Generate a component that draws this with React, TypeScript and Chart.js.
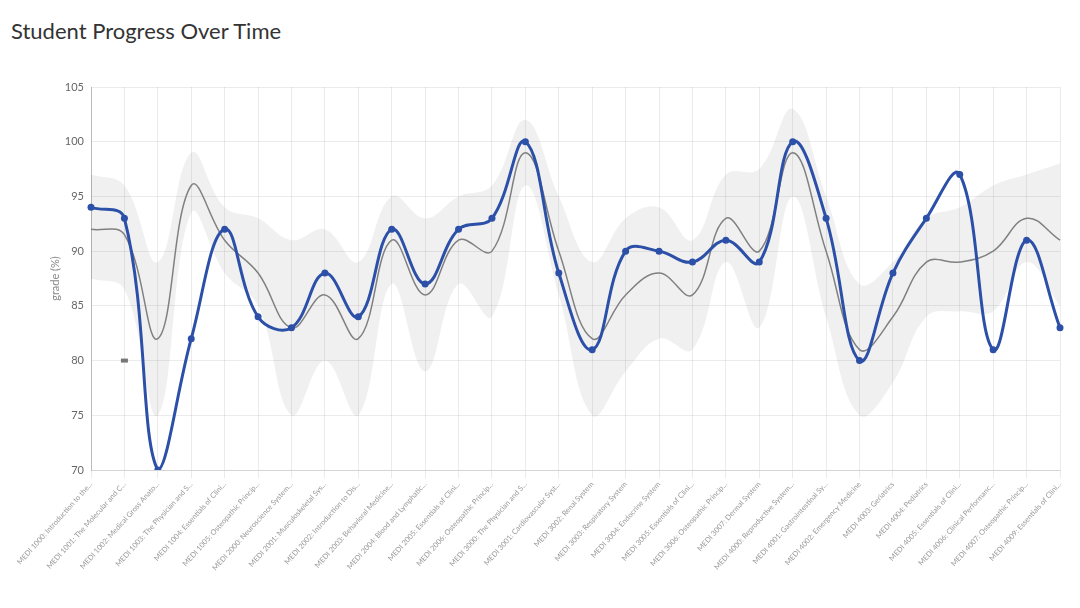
import React, { useEffect, useRef } from "react";
import { Chart, registerables } from "chart.js";

Chart.register(...registerables);

const courseLabels = [
  "MEDI 1000: Introduction to the...",
  "MEDI 1001: The Molecular and C...",
  "MEDI 1002: Medical Gross Anato...",
  "MEDI 1003: The Physician and S...",
  "MEDI 1004: Essentials of Clini...",
  "MEDI 1005: Osteopathic Princip...",
  "MEDI 2000: Neuroscience System...",
  "MEDI 2001: Musculoskeletal Sys...",
  "MEDI 2002: Introduction to Dis...",
  "MEDI 2003: Behavioral Medicine...",
  "MEDI 2004: Blood and Lymphatic...",
  "MEDI 2005: Essentials of Clini...",
  "MEDI 2006: Osteopathic Princip...",
  "MEDI 3000: The Physician and S...",
  "MEDI 3001: Cardiovascular Syst...",
  "MEDI 3002: Renal System",
  "MEDI 3003: Respiratory System",
  "MEDI 3004: Endocrine System",
  "MEDI 3005: Essentials of Clini...",
  "MEDI 3006: Osteopathic Princip...",
  "MEDI 3007: Dermal System",
  "MEDI 4000: Reproductive System...",
  "MEDI 4001: Gastrointestinal Sy...",
  "MEDI 4002: Emergency Medicine",
  "MEDI 4003: Geriatrics",
  "MEDI 4004: Pediatrics",
  "MEDI 4005: Essentials of Clini...",
  "MEDI 4006: Clinical Performanc...",
  "MEDI 4007: Osteopathic Princip...",
  "MEDI 4009: Essentials of Clini...",
];

const studentGrades = [94, 93, 70, 82, 92, 84, 83, 88, 84, 92, 87, 92, 93, 100, 88, 81, 90, 90, 89, 91, 89, 100, 93, 80, 88, 93, 97, 81, 91, 83];

const classAverage = [92, 91.5, 82, 96, 91, 88, 83, 86, 82, 91, 86, 91, 90, 99, 90, 82, 86, 88, 86, 93, 90, 99, 90, 81, 84, 89, 89, 90, 93, 91];

const upperBand = [97, 96, 89, 99, 94, 93, 91, 92, 89, 95, 93, 95, 96, 102, 95, 89, 93, 94, 91, 97, 97.5, 103, 95, 87, 89, 93, 94, 96, 97, 98];

const lowerBand = [87.5, 86.5, 75, 93.5, 88, 85, 75, 80, 75, 87, 79, 87, 84, 96, 86, 75, 79, 82, 81, 89, 83, 95, 84, 75, 78, 84, 84.5, 84.5, 89, 85];

const markerIndex = 1;
const markerValue = 80;

const yTicks = [70, 75, 80, 85, 90, 95, 100, 105];

const FONT = "Lato, 'Open Sans', sans-serif";

export default function App() {
  const canvasRef = useRef<HTMLCanvasElement | null>(null);

  useEffect(() => {
    if (!canvasRef.current) return;
    const markerData = courseLabels.map((_, i) => (i === markerIndex ? markerValue : null));
    const chart = new Chart(canvasRef.current, {
      type: "line",
      data: {
        labels: courseLabels,
        datasets: [
          {
            label: "Student",
            data: studentGrades,
            borderColor: "#2c4fa8",
            backgroundColor: "#2c4fa8",
            borderWidth: 3,
            pointRadius: 3.5,
            pointBackgroundColor: "#2c4fa8",
            pointBorderColor: "#2c4fa8",
            pointBorderWidth: 0,
            tension: 0.4,
            fill: false,
            order: 0,
          },
          {
            label: "Average",
            data: classAverage,
            borderColor: "#808080",
            borderWidth: 1.5,
            pointRadius: 0,
            tension: 0.4,
            fill: false,
            order: 1,
          },
          {
            label: "Marker",
            data: markerData,
            showLine: false,
            pointStyle: "line",
            pointRadius: 3.5,
            pointBorderWidth: 4,
            borderColor: "#777777",
            pointBorderColor: "#777777",
            backgroundColor: "#777777",
            order: 2,
          },
          {
            label: "Upper",
            data: upperBand,
            borderWidth: 0,
            borderColor: "rgba(0,0,0,0)",
            pointRadius: 0,
            tension: 0.4,
            fill: "+1",
            backgroundColor: "rgba(0,0,0,0.06)",
            order: 3,
          },
          {
            label: "Lower",
            data: lowerBand,
            borderWidth: 0,
            borderColor: "rgba(0,0,0,0)",
            pointRadius: 0,
            tension: 0.4,
            fill: false,
            order: 4,
          },
        ],
      },
      options: {
        responsive: false,
        animation: false,
        devicePixelRatio: 1,
        layout: { padding: { top: 87, left: 45, right: 20, bottom: 0 } },
        plugins: {
          legend: { display: false },
          tooltip: { enabled: false },
          title: { display: false },
        },
        scales: {
          x: {
            offset: false,
            grid: {
              color: "rgba(0,0,0,0.08)",
              drawTicks: true,
              tickLength: 8,
            },
            border: { color: "rgba(0,0,0,0.1)" },
            ticks: {
              autoSkip: false,
              minRotation: 48,
              maxRotation: 48,
              padding: 2,
              color: "#999",
              font: { family: FONT, size: 7.4 },
            },
            afterFit: (scale: any) => {
              scale.height = 138;
            },
          },
          y: {
            min: 70,
            max: 105,
            afterBuildTicks: (scale: any) => {
              scale.ticks = yTicks.map((v) => ({ value: v }));
            },
            grid: { color: "rgba(0,0,0,0.08)", drawTicks: false },
            border: { color: "#bbbbbb" },
            ticks: {
              padding: 7,
              color: "#666",
              font: { family: FONT, size: 11 },
            },
            title: {
              display: true,
              text: "grade (%)",
              color: "#888",
              font: { family: FONT, size: 11 },
              padding: { top: 4, bottom: 4 },
            },
            afterFit: (scale: any) => {
              scale.width = 46;
            },
          },
        },
      },
    });
    return () => chart.destroy();
  }, []);

  return (
    <div style={{ position: "fixed", left: 0, top: 0, width: 1080, height: 608, background: "#fff" }}>
      <div
        style={{
          position: "absolute",
          left: 11,
          top: 17,
          fontFamily: FONT,
          fontSize: 22,
          color: "#333",
          whiteSpace: "nowrap",
        }}
      >
        Student Progress Over Time
      </div>
      <canvas ref={canvasRef} width={1080} height={608} style={{ position: "absolute", left: 0, top: 0 }} />
    </div>
  );
}
